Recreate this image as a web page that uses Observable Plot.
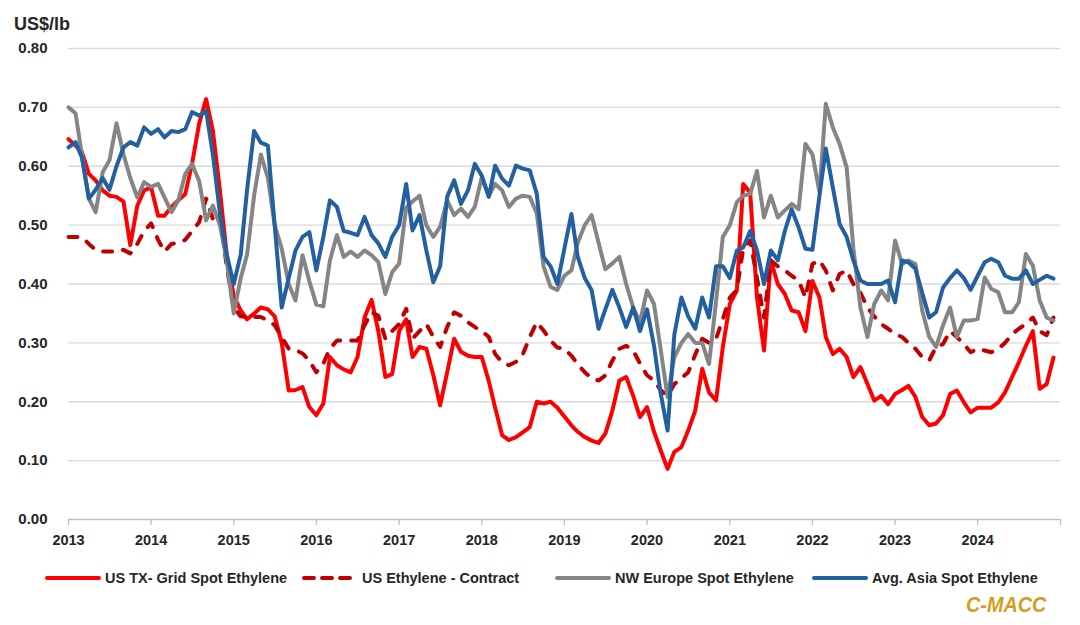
<!DOCTYPE html>
<html>
<head>
<meta charset="utf-8">
<script src="https://cdn.jsdelivr.net/npm/d3@7"></script>
<script src="https://cdn.jsdelivr.net/npm/@observablehq/plot@0.6"></script>
<style>
  body { margin: 0; background: #fff; }
  #wrap { position: relative; width: 1080px; height: 625px; font-family: "Liberation Sans", Arial, sans-serif; color: #262626; }
  #unit { position: absolute; left: 14px; top: 14px; font-size: 18px; font-weight: bold; }
  #chart { position: absolute; left: 0; top: 0; }
  .item { position: absolute; top: 568px; height: 20px; display: flex; align-items: center; font-size: 14.5px; font-weight: bold; white-space: nowrap; }
  .item svg { margin-right: 4px; }
  #brand { position: absolute; left: 966px; top: 592px; font-size: 22px; font-weight: bold; font-style: italic; color: #CFA022; transform: scaleX(0.9); transform-origin: left center; }
</style>
</head>
<body>
<div id="wrap">
  <div id="chart"></div>
  <div id="unit">US$/lb</div>
  <div id="legend"></div>
  <div id="brand">C-MACC</div>
</div>
<script>
// Monthly prices, US$/lb, January 2013 through December 2024 (one row per year)
const usTxGridSpot = [
  0.646, 0.635, 0.624, 0.587, 0.576, 0.559, 0.550, 0.548, 0.540, 0.466, 0.533, 0.559,
  0.564, 0.516, 0.516, 0.531, 0.542, 0.553, 0.604, 0.672, 0.714, 0.660, 0.559, 0.450,
  0.380, 0.355, 0.340, 0.350, 0.360, 0.357, 0.345, 0.300, 0.219, 0.220, 0.225, 0.191,
  0.177, 0.197, 0.276, 0.262, 0.255, 0.250, 0.276, 0.343, 0.373, 0.320, 0.242, 0.247,
  0.320, 0.340, 0.276, 0.293, 0.290, 0.245, 0.194, 0.250, 0.307, 0.285, 0.278, 0.276,
  0.276, 0.235, 0.190, 0.143, 0.135, 0.140, 0.148, 0.157, 0.200, 0.197, 0.200, 0.190,
  0.175, 0.160, 0.149, 0.140, 0.134, 0.130, 0.146, 0.185, 0.236, 0.242, 0.210, 0.174,
  0.191, 0.149, 0.118, 0.086, 0.115, 0.123, 0.151, 0.185, 0.256, 0.216, 0.202, 0.293,
  0.366, 0.389, 0.570, 0.555, 0.377, 0.287, 0.440, 0.400, 0.383, 0.355, 0.352, 0.320,
  0.405, 0.377, 0.310, 0.281, 0.290, 0.276, 0.242, 0.259, 0.230, 0.202, 0.210, 0.196,
  0.213, 0.220, 0.227, 0.208, 0.174, 0.160, 0.163, 0.177, 0.213, 0.219, 0.199, 0.182,
  0.190, 0.190, 0.190, 0.199, 0.216, 0.242, 0.267, 0.295, 0.320, 0.222, 0.230, 0.275
];
const usContract = [
  0.480, 0.480, 0.480, 0.468, 0.458, 0.455, 0.455, 0.455, 0.458, 0.452, 0.468, 0.490,
  0.503, 0.475, 0.455, 0.468, 0.470, 0.475, 0.490, 0.505, 0.545, 0.510, 0.520, 0.430,
  0.360, 0.345, 0.344, 0.344, 0.344, 0.338, 0.330, 0.310, 0.290, 0.288, 0.282, 0.270,
  0.250, 0.265, 0.290, 0.304, 0.304, 0.304, 0.304, 0.330, 0.352, 0.346, 0.307, 0.320,
  0.332, 0.358, 0.307, 0.320, 0.332, 0.310, 0.293, 0.327, 0.352, 0.346, 0.335, 0.327,
  0.320, 0.310, 0.281, 0.267, 0.262, 0.268, 0.280, 0.310, 0.335, 0.321, 0.304, 0.292,
  0.290, 0.278, 0.264, 0.250, 0.240, 0.236, 0.245, 0.270, 0.290, 0.295, 0.287, 0.265,
  0.245, 0.236, 0.220, 0.210, 0.230, 0.240, 0.250, 0.280, 0.307, 0.300, 0.307, 0.340,
  0.377, 0.390, 0.460, 0.474, 0.410, 0.343, 0.440, 0.430, 0.423, 0.414, 0.406, 0.377,
  0.434, 0.440, 0.423, 0.389, 0.417, 0.423, 0.400, 0.385, 0.360, 0.345, 0.332, 0.324,
  0.315, 0.310, 0.300, 0.290, 0.276, 0.270, 0.293, 0.298, 0.320, 0.310, 0.298, 0.284,
  0.290, 0.287, 0.284, 0.290, 0.300, 0.315, 0.324, 0.332, 0.343, 0.320, 0.313, 0.343
];
const nwEuropeSpot = [
  0.700, 0.690, 0.620, 0.545, 0.522, 0.590, 0.610, 0.673, 0.620, 0.580, 0.547, 0.573,
  0.565, 0.570, 0.547, 0.522, 0.542, 0.587, 0.604, 0.575, 0.508, 0.533, 0.500, 0.440,
  0.350, 0.410, 0.450, 0.550, 0.620, 0.580, 0.500, 0.460, 0.400, 0.372, 0.449, 0.405,
  0.365, 0.362, 0.440, 0.483, 0.446, 0.455, 0.446, 0.457, 0.449, 0.437, 0.383, 0.420,
  0.435, 0.530, 0.540, 0.550, 0.500, 0.480, 0.497, 0.542, 0.517, 0.528, 0.514, 0.531,
  0.581, 0.550, 0.570, 0.559, 0.531, 0.545, 0.550, 0.548, 0.520, 0.430, 0.395, 0.390,
  0.414, 0.423, 0.470, 0.500, 0.517, 0.470, 0.425, 0.435, 0.446, 0.400, 0.360, 0.335,
  0.389, 0.366, 0.290, 0.208, 0.276, 0.300, 0.315, 0.300, 0.300, 0.264, 0.370, 0.480,
  0.500, 0.539, 0.550, 0.553, 0.592, 0.513, 0.550, 0.513, 0.525, 0.536, 0.527, 0.638,
  0.620, 0.556, 0.706, 0.666, 0.638, 0.598, 0.460, 0.360, 0.310, 0.366, 0.389, 0.372,
  0.474, 0.434, 0.440, 0.434, 0.355, 0.310, 0.293, 0.330, 0.360, 0.310, 0.338, 0.338,
  0.341, 0.411, 0.392, 0.386, 0.352, 0.352, 0.369, 0.451, 0.431, 0.372, 0.343, 0.338
];
const asiaSpot = [
  0.632, 0.641, 0.615, 0.545, 0.560, 0.580, 0.560, 0.600, 0.632, 0.641, 0.635, 0.666,
  0.655, 0.663, 0.649, 0.660, 0.658, 0.663, 0.692, 0.686, 0.694, 0.620, 0.520, 0.450,
  0.400, 0.450, 0.560, 0.660, 0.640, 0.635, 0.500, 0.360, 0.410, 0.457, 0.480, 0.488,
  0.423, 0.480, 0.542, 0.531, 0.490, 0.487, 0.483, 0.514, 0.483, 0.469, 0.446, 0.480,
  0.500, 0.570, 0.491, 0.517, 0.457, 0.403, 0.430, 0.548, 0.576, 0.536, 0.559, 0.604,
  0.584, 0.548, 0.601, 0.579, 0.567, 0.601, 0.596, 0.593, 0.553, 0.446, 0.430, 0.400,
  0.460, 0.519, 0.446, 0.410, 0.390, 0.324, 0.357, 0.390, 0.360, 0.327, 0.360, 0.320,
  0.357, 0.295, 0.215, 0.151, 0.315, 0.377, 0.345, 0.324, 0.377, 0.343, 0.430, 0.430,
  0.410, 0.457, 0.462, 0.490, 0.457, 0.400, 0.457, 0.440, 0.490, 0.527, 0.496, 0.460,
  0.458, 0.550, 0.630, 0.564, 0.502, 0.480, 0.440, 0.406, 0.400, 0.400, 0.400, 0.406,
  0.369, 0.440, 0.437, 0.426, 0.385, 0.343, 0.352, 0.394, 0.410, 0.423, 0.410, 0.390,
  0.414, 0.437, 0.443, 0.437, 0.414, 0.409, 0.409, 0.423, 0.400, 0.407, 0.414, 0.409
];

const yearTicks = [2013, 2014, 2015, 2016, 2017, 2018, 2019, 2020, 2021, 2022, 2023, 2024, 2025];
const yTicks = [0, 0.1, 0.2, 0.3, 0.4, 0.5, 0.6, 0.7, 0.8];

const series = [
  { name: "US TX- Grid Spot Ethylene", values: usTxGridSpot, color: "#FF0000", dash: null, width: 4 },
  { name: "US Ethylene - Contract", values: usContract, color: "#C00000", dash: "9,11", width: 4 },
  { name: "NW Europe Spot Ethylene", values: nwEuropeSpot, color: "#858585", dash: null, width: 4 },
  { name: "Avg. Asia Spot Ethylene", values: asiaSpot, color: "#23609F", dash: null, width: 4 }
];

const month = (i) => new Date(Date.UTC(2013, i, 1));
const yearDate = (y) => new Date(Date.UTC(y, 0, 1));

const lineMarks = series.map(s =>
  Plot.lineY(s.values.map((v, i) => ({ date: month(i), value: v })), {
    x: "date", y: "value",
    stroke: s.color, strokeWidth: s.width,
    strokeDasharray: s.dash || undefined,
    strokeLinejoin: "round", strokeLinecap: "round"
  })
);

const chart = Plot.plot({
  width: 1080,
  height: 555,
  marginLeft: 68,
  marginRight: 20,
  marginTop: 48,
  marginBottom: 36,
  style: { fontFamily: "'Liberation Sans', Arial, sans-serif", background: "transparent" },
  x: { type: "utc", domain: [yearDate(2013), yearDate(2025)] },
  y: { domain: [0, 0.8] },
  marks: [
    Plot.gridY(yTicks.filter(d => d > 0), { stroke: "#D9D9D9", strokeOpacity: 1, strokeWidth: 1.3 }),
    Plot.ruleY([0], { stroke: "#BFBFBF", strokeWidth: 1.5 }),
    Plot.axisY(yTicks, {
      tickSize: 0, tickPadding: 21, tickFormat: d3.format(".2f"), label: null,
      fontSize: 15, fontWeight: "bold", fill: "#262626"
    }),
    Plot.axisX(yearTicks.map(yearDate), {
      tickSize: 6, tickPadding: 9, label: null,
      tickFormat: d => d.getUTCFullYear() <= 2024 ? String(d.getUTCFullYear()) : "",
      stroke: "#BFBFBF", strokeWidth: 1.3,
      fontSize: 14.5, fontWeight: "bold", fill: "#262626"
    }),
    ...lineMarks
  ]
});
document.getElementById("chart").appendChild(chart);

// Legend row below the chart
const legend = document.getElementById("legend");
const legendLeft = [45, 302, 555, 812];
series.forEach((s, k) => {
  const item = document.createElement("div");
  item.className = "item";
  item.style.left = legendLeft[k] + "px";
  const sw = d3.create("svg").attr("width", 56).attr("height", 10);
  sw.append("line")
    .attr("x1", 2).attr("x2", 54).attr("y1", 5).attr("y2", 5)
    .attr("stroke", s.color).attr("stroke-width", s.width)
    .attr("stroke-linecap", "round")
    .attr("stroke-dasharray", s.dash ? "10,8" : null);
  item.appendChild(sw.node());
  const label = document.createElement("span");
  label.textContent = s.name;
  item.appendChild(label);
  legend.appendChild(item);
});
</script>
</body>
</html>
